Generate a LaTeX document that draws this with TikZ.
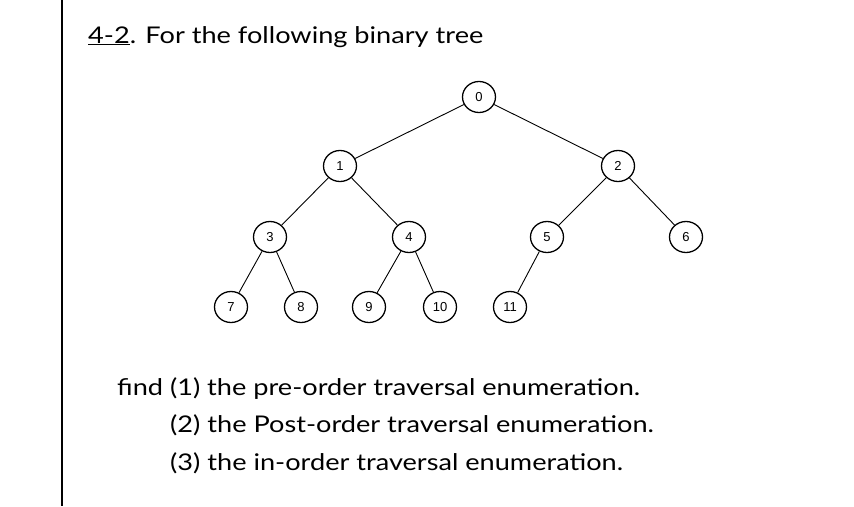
\documentclass[tikz,border=0pt]{standalone}
\usepackage{fontspec}
\usetikzlibrary{shapes.geometric}
\setmainfont[FakeStretch=1.18]{Lato}
\newfontfamily\numfont{Liberation Sans}
\begin{document}
\begin{tikzpicture}[x=1pt,y=-1pt,
  tn/.style={draw,line width=1.3pt,ellipse,minimum width=33pt,minimum height=31pt,inner sep=0pt,font=\numfont\fontsize{13}{14}\selectfont},
  edge/.style={line width=0.9pt},
  txt/.style={anchor=base west,inner sep=0pt,font=\fontsize{23}{26}\selectfont}]
\useasboundingbox (0,0) rectangle (854,506);
\draw[line width=1.2pt] (62,0) coordinate (lt) -- (62,506) coordinate (lb);
\node[txt] (title) at (88,43) {\underline{4-2}. For the following binary tree};
\newcommand\tnode[3]{\node[tn] (n#1) at (#2,#3) {#1};}
\tnode{0}{479}{97}
\tnode{1}{340}{166}
\tnode{2}{618}{166}
\tnode{3}{270}{237}
\tnode{4}{409}{237}
\tnode{5}{547}{237}
\tnode{6}{686}{237}
\tnode{7}{231}{307}
\tnode{8}{301}{307}
\tnode{9}{369}{307}
\tnode{10}{440}{307}
\tnode{11}{510}{307}
\foreach \a/\b in {0/1,0/2,1/3,1/4,2/5,2/6,3/7,3/8,4/9,4/10,5/11}
  \draw[edge] (n\a) -- (n\b);
\node[txt] (q1) at (117,395) {find (1) the pre-order traversal enumeration.};
\node[txt] (q2) at (170,432) {(2) the Post-order traversal enumeration.};
\node[txt] (q3) at (170,470) {(3) the in-order traversal enumeration.};
\end{tikzpicture}
\end{document}
